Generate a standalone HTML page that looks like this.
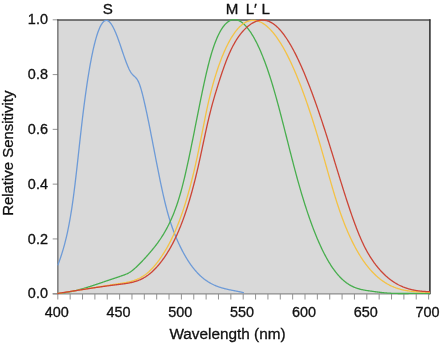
<!DOCTYPE html>
<html><head><meta charset="utf-8"><title>Cone sensitivity</title>
<style>
html,body{margin:0;padding:0;background:#fff;}
svg{display:block;}
text{font-family:"Liberation Sans",sans-serif;font-size:14.0px;fill:#111;stroke:#111;stroke-width:0.3px;}
</style></head><body>
<svg width="440" height="343" viewBox="0 0 440 343">
<rect x="0" y="0" width="440" height="343" fill="#ffffff"/>
<rect x="57.9" y="20.0" width="372.0" height="274.0" fill="#d9d9d9"/>
<g stroke="#989898" stroke-width="1.05" fill="none"><line x1="57.80" y1="294.0" x2="57.80" y2="299.5"/><line x1="70.16" y1="294.0" x2="70.16" y2="299.5"/><line x1="82.52" y1="294.0" x2="82.52" y2="299.5"/><line x1="94.88" y1="294.0" x2="94.88" y2="299.5"/><line x1="107.24" y1="294.0" x2="107.24" y2="299.5"/><line x1="119.60" y1="294.0" x2="119.60" y2="299.5"/><line x1="131.96" y1="294.0" x2="131.96" y2="299.5"/><line x1="144.32" y1="294.0" x2="144.32" y2="299.5"/><line x1="156.68" y1="294.0" x2="156.68" y2="299.5"/><line x1="169.04" y1="294.0" x2="169.04" y2="299.5"/><line x1="181.40" y1="294.0" x2="181.40" y2="299.5"/><line x1="193.76" y1="294.0" x2="193.76" y2="299.5"/><line x1="206.12" y1="294.0" x2="206.12" y2="299.5"/><line x1="218.48" y1="294.0" x2="218.48" y2="299.5"/><line x1="230.84" y1="294.0" x2="230.84" y2="299.5"/><line x1="243.20" y1="294.0" x2="243.20" y2="299.5"/><line x1="255.56" y1="294.0" x2="255.56" y2="299.5"/><line x1="267.92" y1="294.0" x2="267.92" y2="299.5"/><line x1="280.28" y1="294.0" x2="280.28" y2="299.5"/><line x1="292.64" y1="294.0" x2="292.64" y2="299.5"/><line x1="305.00" y1="294.0" x2="305.00" y2="299.5"/><line x1="317.36" y1="294.0" x2="317.36" y2="299.5"/><line x1="329.72" y1="294.0" x2="329.72" y2="299.5"/><line x1="342.08" y1="294.0" x2="342.08" y2="299.5"/><line x1="354.44" y1="294.0" x2="354.44" y2="299.5"/><line x1="366.80" y1="294.0" x2="366.80" y2="299.5"/><line x1="379.16" y1="294.0" x2="379.16" y2="299.5"/><line x1="391.52" y1="294.0" x2="391.52" y2="299.5"/><line x1="403.88" y1="294.0" x2="403.88" y2="299.5"/><line x1="416.24" y1="294.0" x2="416.24" y2="299.5"/><line x1="428.60" y1="294.0" x2="428.60" y2="299.5"/><line x1="52.699999999999996" y1="293.70" x2="57.9" y2="293.70"/><line x1="52.699999999999996" y1="238.92" x2="57.9" y2="238.92"/><line x1="52.699999999999996" y1="184.14" x2="57.9" y2="184.14"/><line x1="52.699999999999996" y1="129.36" x2="57.9" y2="129.36"/><line x1="52.699999999999996" y1="74.58" x2="57.9" y2="74.58"/><line x1="52.699999999999996" y1="19.80" x2="57.9" y2="19.80"/>
<line x1="52.699999999999996" y1="293.85" x2="429.9" y2="293.85" stroke="#8c8c8c" stroke-width="1.1"/>
</g>
<g fill="none">
<line x1="57.85" y1="19.3" x2="57.85" y2="294.3" stroke="#686868" stroke-width="1.3"/>
<line x1="57.2" y1="19.95" x2="430.3" y2="19.95" stroke="#505050" stroke-width="1.4"/>
<line x1="429.9" y1="19.3" x2="429.9" y2="294.3" stroke="#333333" stroke-width="1.6"/>
</g>
<g fill="none" stroke-width="1.3" stroke-linejoin="round" stroke-linecap="round">
<path d="M58.0,264.77 L58.5,263.40 L59.0,262.01 L59.5,260.60 L60.0,259.17 L60.5,257.71 L61.0,256.22 L61.5,254.70 L62.0,253.13 L62.5,251.53 L63.0,249.87 L63.5,248.16 L64.0,246.39 L64.5,244.57 L65.0,242.67 L65.5,240.71 L66.0,238.67 L66.5,236.55 L67.0,234.35 L67.5,232.06 L68.0,229.68 L68.5,227.20 L69.0,224.63 L69.5,221.95 L70.0,219.15 L70.5,216.25 L71.0,213.23 L71.5,210.08 L72.0,206.81 L72.5,203.41 L73.0,199.87 L73.5,196.20 L74.0,192.38 L74.5,188.42 L75.0,184.34 L75.5,180.15 L76.0,175.87 L76.5,171.50 L77.0,167.08 L77.5,162.59 L78.0,158.07 L78.5,153.53 L79.0,148.98 L79.5,144.43 L80.0,139.90 L80.5,135.41 L81.0,130.96 L81.5,126.57 L82.0,122.26 L82.5,118.04 L83.0,113.91 L83.5,109.88 L84.0,105.93 L84.5,102.08 L85.0,98.32 L85.5,94.65 L86.0,91.07 L86.5,87.58 L87.0,84.19 L87.5,80.88 L88.0,77.67 L88.5,74.54 L89.0,71.51 L89.5,68.56 L90.0,65.71 L90.5,62.94 L91.0,60.26 L91.5,57.68 L92.0,55.18 L92.5,52.77 L93.0,50.44 L93.5,48.21 L94.0,46.06 L94.5,44.01 L95.0,42.04 L95.5,40.15 L96.0,38.36 L96.5,36.65 L97.0,35.02 L97.5,33.49 L98.0,32.04 L98.5,30.67 L99.0,29.40 L99.5,28.20 L100.0,27.10 L100.5,26.07 L101.0,25.14 L101.5,24.28 L102.0,23.52 L102.5,22.83 L103.0,22.23 L103.5,21.72 L104.0,21.29 L104.5,20.94 L105.0,20.68 L105.5,20.49 L106.0,20.40 L106.5,20.38 L107.0,20.45 L107.5,20.59 L108.0,20.82 L108.5,21.13 L109.0,21.51 L109.5,21.97 L110.0,22.49 L110.5,23.09 L111.0,23.75 L111.5,24.48 L112.0,25.26 L112.5,26.11 L113.0,27.01 L113.5,27.97 L114.0,28.98 L114.5,30.04 L115.0,31.15 L115.5,32.30 L116.0,33.50 L116.5,34.73 L117.0,36.01 L117.5,37.32 L118.0,38.66 L118.5,40.03 L119.0,41.44 L119.5,42.86 L120.0,44.31 L120.5,45.77 L121.0,47.25 L121.5,48.73 L122.0,50.22 L122.5,51.70 L123.0,53.18 L123.5,54.65 L124.0,56.10 L124.5,57.54 L125.0,58.95 L125.5,60.34 L126.0,61.69 L126.5,63.01 L127.0,64.29 L127.5,65.52 L128.0,66.71 L128.5,67.84 L129.0,68.92 L129.5,69.93 L130.0,70.88 L130.5,71.76 L131.0,72.57 L131.5,73.29 L132.0,73.94 L132.5,74.51 L133.0,75.03 L133.5,75.51 L134.0,75.98 L134.5,76.43 L135.0,76.90 L135.5,77.40 L136.0,77.94 L136.5,78.54 L137.0,79.22 L137.5,79.99 L138.0,80.87 L138.5,81.88 L139.0,83.03 L139.5,84.32 L140.0,85.74 L140.5,87.28 L141.0,88.93 L141.5,90.68 L142.0,92.52 L142.5,94.45 L143.0,96.44 L143.5,98.51 L144.0,100.62 L144.5,102.78 L145.0,104.99 L145.5,107.24 L146.0,109.52 L146.5,111.85 L147.0,114.20 L147.5,116.59 L148.0,119.01 L148.5,121.46 L149.0,123.93 L149.5,126.42 L150.0,128.93 L150.5,131.47 L151.0,134.01 L151.5,136.57 L152.0,139.14 L152.5,141.72 L153.0,144.31 L153.5,146.90 L154.0,149.49 L154.5,152.08 L155.0,154.66 L155.5,157.25 L156.0,159.82 L156.5,162.38 L157.0,164.93 L157.5,167.47 L158.0,169.99 L158.5,172.49 L159.0,174.97 L159.5,177.43 L160.0,179.87 L160.5,182.27 L161.0,184.66 L161.5,187.01 L162.0,189.33 L162.5,191.62 L163.0,193.87 L163.5,196.08 L164.0,198.25 L164.5,200.39 L165.0,202.48 L165.5,204.52 L166.0,206.52 L166.5,208.46 L167.0,210.36 L167.5,212.21 L168.0,214.00 L168.5,215.75 L169.0,217.45 L169.5,219.11 L170.0,220.73 L170.5,222.30 L171.0,223.83 L171.5,225.33 L172.0,226.78 L172.5,228.20 L173.0,229.59 L173.5,230.94 L174.0,232.26 L174.5,233.55 L175.0,234.81 L175.5,236.04 L176.0,237.25 L176.5,238.43 L177.0,239.59 L177.5,240.72 L178.0,241.84 L178.5,242.93 L179.0,244.01 L179.5,245.07 L180.0,246.12 L180.5,247.14 L181.0,248.15 L181.5,249.14 L182.0,250.12 L182.5,251.08 L183.0,252.02 L183.5,252.95 L184.0,253.86 L184.5,254.75 L185.0,255.63 L185.5,256.50 L186.0,257.34 L186.5,258.18 L187.0,258.99 L187.5,259.80 L188.0,260.58 L188.5,261.36 L189.0,262.11 L189.5,262.86 L190.0,263.59 L190.5,264.30 L191.0,265.01 L191.5,265.69 L192.0,266.37 L192.5,267.03 L193.0,267.68 L193.5,268.31 L194.0,268.93 L194.5,269.54 L195.0,270.14 L195.5,270.72 L196.0,271.29 L196.5,271.85 L197.0,272.40 L197.5,272.93 L198.0,273.46 L198.5,273.97 L199.0,274.47 L199.5,274.96 L200.0,275.44 L200.5,275.91 L201.0,276.36 L201.5,276.81 L202.0,277.25 L202.5,277.67 L203.0,278.09 L203.5,278.49 L204.0,278.89 L204.5,279.28 L205.0,279.65 L205.5,280.02 L206.0,280.38 L206.5,280.73 L207.0,281.07 L207.5,281.40 L208.0,281.72 L208.5,282.04 L209.0,282.34 L209.5,282.64 L210.0,282.93 L210.5,283.21 L211.0,283.49 L211.5,283.76 L212.0,284.02 L212.5,284.27 L213.0,284.52 L213.5,284.76 L214.0,284.99 L214.5,285.22 L215.0,285.44 L215.5,285.65 L216.0,285.86 L216.5,286.06 L217.0,286.26 L217.5,286.45 L218.0,286.63 L218.5,286.81 L219.0,286.99 L219.5,287.16 L220.0,287.32 L220.5,287.48 L221.0,287.64 L221.5,287.79 L222.0,287.94 L222.5,288.08 L223.0,288.22 L223.5,288.36 L224.0,288.49 L224.5,288.62 L225.0,288.75 L225.5,288.87 L226.0,288.99 L226.5,289.11 L227.0,289.23 L227.5,289.34 L228.0,289.45 L228.5,289.56 L229.0,289.67 L229.5,289.77 L230.0,289.88 L230.5,289.98 L231.0,290.08 L231.5,290.18 L232.0,290.28 L232.5,290.37 L233.0,290.47 L233.5,290.57 L234.0,290.66 L234.5,290.76 L235.0,290.86 L235.5,290.95 L236.0,291.05 L236.5,291.14 L237.0,291.24 L237.5,291.34 L238.0,291.44 L238.5,291.54 L239.0,291.64 L239.5,291.74 L240.0,291.85 L240.5,291.95 L241.0,292.06 L241.5,292.17 L242.0,292.28 L242.5,292.40 L243.0,292.51 L243.4,292.61" stroke="#6e9bd7"/>
<path d="M57.9,293.41 L58.4,293.37 L58.9,293.34 L59.4,293.30 L59.9,293.25 L60.4,293.21 L60.9,293.16 L61.4,293.11 L61.9,293.05 L62.4,293.00 L62.9,292.94 L63.4,292.88 L63.9,292.81 L64.4,292.74 L64.9,292.67 L65.4,292.60 L65.9,292.52 L66.4,292.44 L66.9,292.36 L67.4,292.28 L67.9,292.19 L68.4,292.10 L68.9,292.01 L69.4,291.92 L69.9,291.83 L70.4,291.73 L70.9,291.63 L71.4,291.53 L71.9,291.42 L72.4,291.31 L72.9,291.21 L73.4,291.10 L73.9,290.98 L74.4,290.87 L74.9,290.75 L75.4,290.63 L75.9,290.51 L76.4,290.39 L76.9,290.27 L77.4,290.14 L77.9,290.01 L78.4,289.88 L78.9,289.75 L79.4,289.62 L79.9,289.48 L80.4,289.35 L80.9,289.21 L81.4,289.07 L81.9,288.93 L82.4,288.79 L82.9,288.65 L83.4,288.50 L83.9,288.36 L84.4,288.21 L84.9,288.06 L85.4,287.91 L85.9,287.76 L86.4,287.61 L86.9,287.45 L87.4,287.30 L87.9,287.14 L88.4,286.99 L88.9,286.83 L89.4,286.67 L89.9,286.51 L90.4,286.35 L90.9,286.19 L91.4,286.03 L91.9,285.87 L92.4,285.70 L92.9,285.54 L93.4,285.38 L93.9,285.21 L94.4,285.05 L94.9,284.88 L95.4,284.71 L95.9,284.54 L96.4,284.38 L96.9,284.21 L97.4,284.04 L97.9,283.87 L98.4,283.70 L98.9,283.53 L99.4,283.36 L99.9,283.19 L100.4,283.02 L100.9,282.85 L101.4,282.68 L101.9,282.51 L102.4,282.34 L102.9,282.17 L103.4,282.00 L103.9,281.83 L104.4,281.66 L104.9,281.49 L105.4,281.32 L105.9,281.15 L106.4,280.98 L106.9,280.81 L107.4,280.64 L107.9,280.47 L108.4,280.31 L108.9,280.14 L109.4,279.97 L109.9,279.80 L110.4,279.63 L110.9,279.46 L111.4,279.29 L111.9,279.12 L112.4,278.96 L112.9,278.79 L113.4,278.62 L113.9,278.45 L114.4,278.28 L114.9,278.11 L115.4,277.94 L115.9,277.77 L116.4,277.61 L116.9,277.44 L117.4,277.27 L117.9,277.10 L118.4,276.93 L118.9,276.76 L119.4,276.59 L119.9,276.42 L120.4,276.25 L120.9,276.08 L121.4,275.90 L121.9,275.73 L122.4,275.56 L122.9,275.39 L123.4,275.21 L123.9,275.03 L124.4,274.84 L124.9,274.65 L125.4,274.45 L125.9,274.25 L126.4,274.03 L126.9,273.81 L127.4,273.57 L127.9,273.32 L128.4,273.06 L128.9,272.78 L129.4,272.49 L129.9,272.18 L130.4,271.86 L130.9,271.52 L131.4,271.16 L131.9,270.80 L132.4,270.41 L132.9,270.02 L133.4,269.62 L133.9,269.20 L134.4,268.77 L134.9,268.34 L135.4,267.89 L135.9,267.44 L136.4,266.98 L136.9,266.51 L137.4,266.04 L137.9,265.55 L138.4,265.07 L138.9,264.57 L139.4,264.08 L139.9,263.57 L140.4,263.06 L140.9,262.54 L141.4,262.02 L141.9,261.50 L142.4,260.97 L142.9,260.43 L143.4,259.89 L143.9,259.35 L144.4,258.80 L144.9,258.25 L145.4,257.70 L145.9,257.14 L146.4,256.58 L146.9,256.01 L147.4,255.45 L147.9,254.88 L148.4,254.31 L148.9,253.73 L149.4,253.16 L149.9,252.58 L150.4,252.00 L150.9,251.41 L151.4,250.82 L151.9,250.23 L152.4,249.63 L152.9,249.02 L153.4,248.41 L153.9,247.80 L154.4,247.17 L154.9,246.54 L155.4,245.91 L155.9,245.26 L156.4,244.61 L156.9,243.94 L157.4,243.27 L157.9,242.59 L158.4,241.89 L158.9,241.19 L159.4,240.48 L159.9,239.75 L160.4,239.01 L160.9,238.26 L161.4,237.50 L161.9,236.72 L162.4,235.93 L162.9,235.13 L163.4,234.31 L163.9,233.48 L164.4,232.63 L164.9,231.77 L165.4,230.89 L165.9,229.99 L166.4,229.07 L166.9,228.14 L167.4,227.19 L167.9,226.22 L168.4,225.24 L168.9,224.23 L169.4,223.20 L169.9,222.16 L170.4,221.09 L170.9,220.00 L171.4,218.88 L171.9,217.74 L172.4,216.57 L172.9,215.38 L173.4,214.16 L173.9,212.91 L174.4,211.63 L174.9,210.31 L175.4,208.97 L175.9,207.59 L176.4,206.18 L176.9,204.73 L177.4,203.24 L177.9,201.72 L178.4,200.16 L178.9,198.56 L179.4,196.92 L179.9,195.23 L180.4,193.50 L180.9,191.73 L181.4,189.92 L181.9,188.06 L182.4,186.15 L182.9,184.20 L183.4,182.21 L183.9,180.17 L184.4,178.10 L184.9,176.00 L185.4,173.85 L185.9,171.67 L186.4,169.46 L186.9,167.22 L187.4,164.95 L187.9,162.66 L188.4,160.33 L188.9,157.99 L189.4,155.62 L189.9,153.22 L190.4,150.81 L190.9,148.38 L191.4,145.94 L191.9,143.48 L192.4,141.00 L192.9,138.52 L193.4,136.02 L193.9,133.52 L194.4,131.01 L194.9,128.49 L195.4,125.97 L195.9,123.45 L196.4,120.92 L196.9,118.40 L197.4,115.88 L197.9,113.37 L198.4,110.86 L198.9,108.36 L199.4,105.86 L199.9,103.38 L200.4,100.92 L200.9,98.46 L201.4,96.03 L201.9,93.61 L202.4,91.21 L202.9,88.84 L203.4,86.49 L203.9,84.16 L204.4,81.87 L204.9,79.60 L205.4,77.36 L205.9,75.16 L206.4,72.99 L206.9,70.86 L207.4,68.78 L207.9,66.73 L208.4,64.74 L208.9,62.79 L209.4,60.89 L209.9,59.04 L210.4,57.25 L210.9,55.50 L211.4,53.80 L211.9,52.16 L212.4,50.56 L212.9,49.01 L213.4,47.51 L213.9,46.05 L214.4,44.64 L214.9,43.28 L215.4,41.96 L215.9,40.69 L216.4,39.46 L216.9,38.27 L217.4,37.13 L217.9,36.03 L218.4,34.97 L218.9,33.95 L219.4,32.97 L219.9,32.03 L220.4,31.13 L220.9,30.26 L221.4,29.44 L221.9,28.65 L222.4,27.90 L222.9,27.19 L223.4,26.51 L223.9,25.86 L224.4,25.25 L224.9,24.68 L225.4,24.13 L225.9,23.62 L226.4,23.14 L226.9,22.70 L227.4,22.28 L227.9,21.89 L228.4,21.54 L228.9,21.21 L229.4,20.91 L229.9,20.65 L230.4,20.41 L230.9,20.20 L231.4,20.02 L231.9,19.90 L232.4,19.90 L232.9,19.90 L233.4,19.90 L233.9,19.90 L234.4,19.90 L234.9,19.90 L235.4,19.90 L235.9,19.90 L236.4,19.90 L236.9,19.90 L237.4,20.00 L237.9,20.17 L238.4,20.37 L238.9,20.59 L239.4,20.83 L239.9,21.10 L240.4,21.40 L240.9,21.72 L241.4,22.06 L241.9,22.42 L242.4,22.81 L242.9,23.22 L243.4,23.65 L243.9,24.11 L244.4,24.59 L244.9,25.09 L245.4,25.61 L245.9,26.15 L246.4,26.72 L246.9,27.30 L247.4,27.91 L247.9,28.54 L248.4,29.18 L248.9,29.85 L249.4,30.54 L249.9,31.25 L250.4,31.98 L250.9,32.72 L251.4,33.49 L251.9,34.28 L252.4,35.09 L252.9,35.92 L253.4,36.77 L253.9,37.65 L254.4,38.54 L254.9,39.45 L255.4,40.38 L255.9,41.34 L256.4,42.31 L256.9,43.31 L257.4,44.32 L257.9,45.36 L258.4,46.42 L258.9,47.50 L259.4,48.59 L259.9,49.71 L260.4,50.85 L260.9,52.02 L261.4,53.20 L261.9,54.40 L262.4,55.63 L262.9,56.87 L263.4,58.14 L263.9,59.42 L264.4,60.73 L264.9,62.06 L265.4,63.41 L265.9,64.78 L266.4,66.17 L266.9,67.59 L267.4,69.02 L267.9,70.48 L268.4,71.96 L268.9,73.45 L269.4,74.97 L269.9,76.51 L270.4,78.08 L270.9,79.66 L271.4,81.26 L271.9,82.89 L272.4,84.54 L272.9,86.21 L273.4,87.90 L273.9,89.61 L274.4,91.34 L274.9,93.08 L275.4,94.85 L275.9,96.63 L276.4,98.43 L276.9,100.25 L277.4,102.08 L277.9,103.92 L278.4,105.78 L278.9,107.65 L279.4,109.54 L279.9,111.43 L280.4,113.34 L280.9,115.25 L281.4,117.18 L281.9,119.11 L282.4,121.05 L282.9,122.99 L283.4,124.95 L283.9,126.90 L284.4,128.87 L284.9,130.83 L285.4,132.80 L285.9,134.77 L286.4,136.75 L286.9,138.72 L287.4,140.70 L287.9,142.67 L288.4,144.64 L288.9,146.61 L289.4,148.58 L289.9,150.55 L290.4,152.50 L290.9,154.46 L291.4,156.41 L291.9,158.35 L292.4,160.28 L292.9,162.21 L293.4,164.13 L293.9,166.04 L294.4,167.94 L294.9,169.82 L295.4,171.70 L295.9,173.56 L296.4,175.41 L296.9,177.24 L297.4,179.06 L297.9,180.87 L298.4,182.66 L298.9,184.43 L299.4,186.19 L299.9,187.93 L300.4,189.65 L300.9,191.36 L301.4,193.06 L301.9,194.73 L302.4,196.39 L302.9,198.04 L303.4,199.67 L303.9,201.28 L304.4,202.88 L304.9,204.46 L305.4,206.02 L305.9,207.57 L306.4,209.11 L306.9,210.62 L307.4,212.13 L307.9,213.61 L308.4,215.08 L308.9,216.54 L309.4,217.98 L309.9,219.40 L310.4,220.81 L310.9,222.20 L311.4,223.58 L311.9,224.94 L312.4,226.28 L312.9,227.61 L313.4,228.93 L313.9,230.23 L314.4,231.51 L314.9,232.78 L315.4,234.03 L315.9,235.27 L316.4,236.49 L316.9,237.70 L317.4,238.89 L317.9,240.06 L318.4,241.22 L318.9,242.37 L319.4,243.49 L319.9,244.61 L320.4,245.71 L320.9,246.79 L321.4,247.86 L321.9,248.91 L322.4,249.95 L322.9,250.97 L323.4,251.98 L323.9,252.97 L324.4,253.95 L324.9,254.91 L325.4,255.85 L325.9,256.79 L326.4,257.70 L326.9,258.60 L327.4,259.49 L327.9,260.36 L328.4,261.22 L328.9,262.06 L329.4,262.89 L329.9,263.70 L330.4,264.49 L330.9,265.28 L331.4,266.04 L331.9,266.80 L332.4,267.53 L332.9,268.26 L333.4,268.97 L333.9,269.66 L334.4,270.34 L334.9,271.01 L335.4,271.66 L335.9,272.30 L336.4,272.93 L336.9,273.54 L337.4,274.14 L337.9,274.72 L338.4,275.30 L338.9,275.86 L339.4,276.40 L339.9,276.94 L340.4,277.46 L340.9,277.96 L341.4,278.46 L341.9,278.94 L342.4,279.41 L342.9,279.87 L343.4,280.32 L343.9,280.75 L344.4,281.17 L344.9,281.59 L345.4,281.98 L345.9,282.37 L346.4,282.75 L346.9,283.11 L347.4,283.47 L347.9,283.81 L348.4,284.14 L348.9,284.46 L349.4,284.77 L349.9,285.07 L350.4,285.36 L350.9,285.64 L351.4,285.90 L351.9,286.16 L352.4,286.41 L352.9,286.65 L353.4,286.88 L353.9,287.10 L354.4,287.31 L354.9,287.51 L355.4,287.71 L355.9,287.89 L356.4,288.07 L356.9,288.25 L357.4,288.41 L357.9,288.57 L358.4,288.72 L358.9,288.87 L359.4,289.00 L359.9,289.14 L360.4,289.27 L360.9,289.39 L361.4,289.51 L361.9,289.62 L362.4,289.73 L362.9,289.83 L363.4,289.93 L363.9,290.02 L364.4,290.12 L364.9,290.21 L365.4,290.29 L365.9,290.37 L366.4,290.46 L366.9,290.53 L367.4,290.61 L367.9,290.69 L368.4,290.76 L368.9,290.83 L369.4,290.90 L369.9,290.97 L370.4,291.04 L370.9,291.11 L371.4,291.18 L371.9,291.25 L372.4,291.32 L372.9,291.39 L373.4,291.46 L373.9,291.53 L374.4,291.60 L374.9,291.67 L375.4,291.74 L375.9,291.81 L376.4,291.87 L376.9,291.94 L377.4,292.01 L377.9,292.07 L378.4,292.14 L378.9,292.20 L379.4,292.26 L379.9,292.32 L380.4,292.38 L380.9,292.44 L381.4,292.50 L381.9,292.55 L382.4,292.60 L382.9,292.66 L383.4,292.71 L383.9,292.76 L384.4,292.80 L384.9,292.85 L385.4,292.89 L385.9,292.93 L386.4,292.97 L386.9,293.01 L387.4,293.05 L387.9,293.08 L388.4,293.12 L388.9,293.15 L389.4,293.18 L389.9,293.21 L390.4,293.23 L390.9,293.26 L391.4,293.28 L391.9,293.30 L392.4,293.32 L392.9,293.34 L393.4,293.36 L393.9,293.38 L394.4,293.40 L394.9,293.41 L395.4,293.42 L395.9,293.44 L396.4,293.45 L396.9,293.46 L397.4,293.47 L397.9,293.48 L398.4,293.48 L398.9,293.49 L399.4,293.49 L399.9,293.50 L400.4,293.50 L400.9,293.51 L401.4,293.51 L401.9,293.51 L402.4,293.51 L402.9,293.51 L403.4,293.51 L403.9,293.51 L404.4,293.51 L404.9,293.51 L405.4,293.50 L405.9,293.50 L406.4,293.50 L406.9,293.49 L407.4,293.49 L407.9,293.48 L408.4,293.48 L408.9,293.47 L409.4,293.47 L409.9,293.46 L410.4,293.46 L410.9,293.45 L411.4,293.45 L411.9,293.44 L412.4,293.44 L412.9,293.43 L413.4,293.42 L413.9,293.42 L414.4,293.41 L414.9,293.41 L415.4,293.40 L415.9,293.40 L416.4,293.40 L416.9,293.39 L417.4,293.39 L417.9,293.38 L418.4,293.38 L418.9,293.38 L419.4,293.38 L419.9,293.38 L420.4,293.38 L420.9,293.38 L421.4,293.38 L421.9,293.38 L422.4,293.38 L422.9,293.38 L423.4,293.38 L423.9,293.39 L424.4,293.39 L424.9,293.40 L425.4,293.41 L425.9,293.41 L426.4,293.42 L426.9,293.43 L427.4,293.44 L427.9,293.45 L428.4,293.47 L428.9,293.48 L429.4,293.50 L429.5,293.50" stroke="#48ae4e"/>
<path d="M57.9,293.42 L58.4,293.35 L58.9,293.27 L59.4,293.20 L59.9,293.12 L60.4,293.05 L60.9,292.97 L61.4,292.90 L61.9,292.82 L62.4,292.75 L62.9,292.67 L63.4,292.59 L63.9,292.52 L64.4,292.44 L64.9,292.36 L65.4,292.29 L65.9,292.21 L66.4,292.13 L66.9,292.05 L67.4,291.97 L67.9,291.90 L68.4,291.82 L68.9,291.74 L69.4,291.66 L69.9,291.58 L70.4,291.50 L70.9,291.42 L71.4,291.34 L71.9,291.26 L72.4,291.18 L72.9,291.10 L73.4,291.02 L73.9,290.94 L74.4,290.86 L74.9,290.78 L75.4,290.70 L75.9,290.62 L76.4,290.54 L76.9,290.46 L77.4,290.37 L77.9,290.29 L78.4,290.21 L78.9,290.13 L79.4,290.05 L79.9,289.97 L80.4,289.88 L80.9,289.80 L81.4,289.72 L81.9,289.64 L82.4,289.56 L82.9,289.47 L83.4,289.39 L83.9,289.31 L84.4,289.23 L84.9,289.14 L85.4,289.06 L85.9,288.98 L86.4,288.90 L86.9,288.81 L87.4,288.73 L87.9,288.65 L88.4,288.57 L88.9,288.48 L89.4,288.40 L89.9,288.32 L90.4,288.24 L90.9,288.15 L91.4,288.07 L91.9,287.99 L92.4,287.90 L92.9,287.82 L93.4,287.74 L93.9,287.66 L94.4,287.57 L94.9,287.49 L95.4,287.41 L95.9,287.33 L96.4,287.25 L96.9,287.16 L97.4,287.08 L97.9,287.00 L98.4,286.92 L98.9,286.83 L99.4,286.75 L99.9,286.67 L100.4,286.59 L100.9,286.51 L101.4,286.43 L101.9,286.35 L102.4,286.26 L102.9,286.18 L103.4,286.10 L103.9,286.02 L104.4,285.94 L104.9,285.86 L105.4,285.78 L105.9,285.70 L106.4,285.62 L106.9,285.54 L107.4,285.46 L107.9,285.38 L108.4,285.30 L108.9,285.22 L109.4,285.14 L109.9,285.06 L110.4,284.98 L110.9,284.90 L111.4,284.82 L111.9,284.75 L112.4,284.67 L112.9,284.59 L113.4,284.51 L113.9,284.43 L114.4,284.36 L114.9,284.28 L115.4,284.20 L115.9,284.13 L116.4,284.05 L116.9,283.97 L117.4,283.90 L117.9,283.82 L118.4,283.75 L118.9,283.67 L119.4,283.60 L119.9,283.52 L120.4,283.45 L120.9,283.37 L121.4,283.29 L121.9,283.21 L122.4,283.14 L122.9,283.06 L123.4,282.97 L123.9,282.89 L124.4,282.80 L124.9,282.72 L125.4,282.63 L125.9,282.53 L126.4,282.44 L126.9,282.34 L127.4,282.24 L127.9,282.13 L128.4,282.02 L128.9,281.91 L129.4,281.79 L129.9,281.67 L130.4,281.54 L130.9,281.41 L131.4,281.28 L131.9,281.13 L132.4,280.99 L132.9,280.83 L133.4,280.68 L133.9,280.51 L134.4,280.34 L134.9,280.16 L135.4,279.98 L135.9,279.79 L136.4,279.59 L136.9,279.39 L137.4,279.17 L137.9,278.95 L138.4,278.72 L138.9,278.49 L139.4,278.24 L139.9,277.99 L140.4,277.72 L140.9,277.45 L141.4,277.17 L141.9,276.88 L142.4,276.58 L142.9,276.27 L143.4,275.95 L143.9,275.62 L144.4,275.28 L144.9,274.93 L145.4,274.56 L145.9,274.19 L146.4,273.80 L146.9,273.41 L147.4,273.00 L147.9,272.58 L148.4,272.14 L148.9,271.70 L149.4,271.24 L149.9,270.77 L150.4,270.29 L150.9,269.80 L151.4,269.29 L151.9,268.77 L152.4,268.25 L152.9,267.71 L153.4,267.15 L153.9,266.59 L154.4,266.01 L154.9,265.43 L155.4,264.83 L155.9,264.22 L156.4,263.59 L156.9,262.96 L157.4,262.31 L157.9,261.66 L158.4,260.99 L158.9,260.31 L159.4,259.62 L159.9,258.91 L160.4,258.20 L160.9,257.48 L161.4,256.74 L161.9,255.99 L162.4,255.23 L162.9,254.46 L163.4,253.68 L163.9,252.89 L164.4,252.08 L164.9,251.26 L165.4,250.43 L165.9,249.59 L166.4,248.73 L166.9,247.86 L167.4,246.98 L167.9,246.08 L168.4,245.17 L168.9,244.24 L169.4,243.29 L169.9,242.34 L170.4,241.36 L170.9,240.37 L171.4,239.36 L171.9,238.34 L172.4,237.30 L172.9,236.24 L173.4,235.16 L173.9,234.07 L174.4,232.95 L174.9,231.82 L175.4,230.67 L175.9,229.50 L176.4,228.31 L176.9,227.10 L177.4,225.86 L177.9,224.61 L178.4,223.34 L178.9,222.04 L179.4,220.73 L179.9,219.39 L180.4,218.03 L180.9,216.64 L181.4,215.24 L181.9,213.81 L182.4,212.35 L182.9,210.87 L183.4,209.37 L183.9,207.84 L184.4,206.29 L184.9,204.71 L185.4,203.11 L185.9,201.48 L186.4,199.82 L186.9,198.14 L187.4,196.43 L187.9,194.70 L188.4,192.93 L188.9,191.14 L189.4,189.32 L189.9,187.47 L190.4,185.59 L190.9,183.68 L191.4,181.75 L191.9,179.78 L192.4,177.78 L192.9,175.75 L193.4,173.70 L193.9,171.61 L194.4,169.48 L194.9,167.33 L195.4,165.15 L195.9,162.93 L196.4,160.68 L196.9,158.39 L197.4,156.07 L197.9,153.72 L198.4,151.34 L198.9,148.92 L199.4,146.47 L199.9,143.99 L200.4,141.49 L200.9,138.97 L201.4,136.45 L201.9,133.91 L202.4,131.37 L202.9,128.83 L203.4,126.30 L203.9,123.78 L204.4,121.28 L204.9,118.79 L205.4,116.33 L205.9,113.90 L206.4,111.50 L206.9,109.14 L207.4,106.82 L207.9,104.56 L208.4,102.34 L208.9,100.17 L209.4,98.06 L209.9,95.99 L210.4,93.97 L210.9,92.00 L211.4,90.07 L211.9,88.18 L212.4,86.33 L212.9,84.53 L213.4,82.76 L213.9,81.02 L214.4,79.32 L214.9,77.65 L215.4,76.02 L215.9,74.41 L216.4,72.83 L216.9,71.28 L217.4,69.77 L217.9,68.28 L218.4,66.82 L218.9,65.38 L219.4,63.98 L219.9,62.60 L220.4,61.25 L220.9,59.93 L221.4,58.63 L221.9,57.36 L222.4,56.11 L222.9,54.89 L223.4,53.70 L223.9,52.52 L224.4,51.38 L224.9,50.25 L225.4,49.15 L225.9,48.08 L226.4,47.02 L226.9,45.99 L227.4,44.98 L227.9,43.99 L228.4,43.02 L228.9,42.08 L229.4,41.15 L229.9,40.25 L230.4,39.37 L230.9,38.51 L231.4,37.68 L231.9,36.86 L232.4,36.06 L232.9,35.29 L233.4,34.53 L233.9,33.80 L234.4,33.09 L234.9,32.40 L235.4,31.72 L235.9,31.07 L236.4,30.44 L236.9,29.83 L237.4,29.24 L237.9,28.67 L238.4,28.12 L238.9,27.59 L239.4,27.07 L239.9,26.58 L240.4,26.11 L240.9,25.66 L241.4,25.22 L241.9,24.81 L242.4,24.41 L242.9,24.03 L243.4,23.67 L243.9,23.33 L244.4,23.01 L244.9,22.71 L245.4,22.43 L245.9,22.16 L246.4,21.91 L246.9,21.69 L247.4,21.47 L247.9,21.28 L248.4,21.11 L248.9,20.95 L249.4,20.81 L249.9,20.69 L250.4,20.58 L250.9,20.50 L251.4,20.43 L251.9,20.37 L252.4,20.34 L252.9,20.32 L253.4,20.32 L253.9,20.33 L254.4,20.36 L254.9,20.41 L255.4,20.47 L255.9,20.56 L256.4,20.65 L256.9,20.77 L257.4,20.90 L257.9,21.04 L258.4,21.20 L258.9,21.38 L259.4,21.57 L259.9,21.78 L260.4,22.01 L260.9,22.24 L261.4,22.50 L261.9,22.77 L262.4,23.05 L262.9,23.35 L263.4,23.67 L263.9,24.00 L264.4,24.34 L264.9,24.70 L265.4,25.08 L265.9,25.47 L266.4,25.87 L266.9,26.29 L267.4,26.72 L267.9,27.16 L268.4,27.62 L268.9,28.10 L269.4,28.59 L269.9,29.09 L270.4,29.61 L270.9,30.14 L271.4,30.69 L271.9,31.25 L272.4,31.82 L272.9,32.41 L273.4,33.01 L273.9,33.63 L274.4,34.26 L274.9,34.90 L275.4,35.56 L275.9,36.23 L276.4,36.92 L276.9,37.62 L277.4,38.33 L277.9,39.05 L278.4,39.79 L278.9,40.54 L279.4,41.31 L279.9,42.09 L280.4,42.88 L280.9,43.69 L281.4,44.51 L281.9,45.34 L282.4,46.19 L282.9,47.04 L283.4,47.92 L283.9,48.80 L284.4,49.70 L284.9,50.61 L285.4,51.53 L285.9,52.47 L286.4,53.42 L286.9,54.38 L287.4,55.36 L287.9,56.34 L288.4,57.34 L288.9,58.36 L289.4,59.38 L289.9,60.42 L290.4,61.47 L290.9,62.53 L291.4,63.61 L291.9,64.70 L292.4,65.80 L292.9,66.91 L293.4,68.03 L293.9,69.17 L294.4,70.32 L294.9,71.48 L295.4,72.65 L295.9,73.83 L296.4,75.03 L296.9,76.24 L297.4,77.46 L297.9,78.69 L298.4,79.93 L298.9,81.19 L299.4,82.46 L299.9,83.74 L300.4,85.03 L300.9,86.33 L301.4,87.64 L301.9,88.97 L302.4,90.30 L302.9,91.65 L303.4,93.01 L303.9,94.38 L304.4,95.76 L304.9,97.15 L305.4,98.56 L305.9,99.97 L306.4,101.40 L306.9,102.84 L307.4,104.28 L307.9,105.74 L308.4,107.21 L308.9,108.69 L309.4,110.19 L309.9,111.69 L310.4,113.20 L310.9,114.73 L311.4,116.26 L311.9,117.81 L312.4,119.36 L312.9,120.93 L313.4,122.50 L313.9,124.09 L314.4,125.69 L314.9,127.30 L315.4,128.91 L315.9,130.54 L316.4,132.18 L316.9,133.83 L317.4,135.49 L317.9,137.16 L318.4,138.83 L318.9,140.52 L319.4,142.22 L319.9,143.93 L320.4,145.65 L320.9,147.38 L321.4,149.11 L321.9,150.86 L322.4,152.61 L322.9,154.37 L323.4,156.13 L323.9,157.90 L324.4,159.66 L324.9,161.44 L325.4,163.21 L325.9,164.99 L326.4,166.76 L326.9,168.53 L327.4,170.31 L327.9,172.07 L328.4,173.84 L328.9,175.60 L329.4,177.36 L329.9,179.11 L330.4,180.85 L330.9,182.58 L331.4,184.31 L331.9,186.02 L332.4,187.73 L332.9,189.42 L333.4,191.10 L333.9,192.77 L334.4,194.43 L334.9,196.07 L335.4,197.69 L335.9,199.30 L336.4,200.89 L336.9,202.46 L337.4,204.01 L337.9,205.54 L338.4,207.05 L338.9,208.54 L339.4,210.01 L339.9,211.46 L340.4,212.89 L340.9,214.31 L341.4,215.70 L341.9,217.07 L342.4,218.43 L342.9,219.76 L343.4,221.08 L343.9,222.38 L344.4,223.66 L344.9,224.92 L345.4,226.17 L345.9,227.40 L346.4,228.61 L346.9,229.80 L347.4,230.98 L347.9,232.14 L348.4,233.29 L348.9,234.41 L349.4,235.53 L349.9,236.62 L350.4,237.70 L350.9,238.77 L351.4,239.82 L351.9,240.85 L352.4,241.87 L352.9,242.88 L353.4,243.87 L353.9,244.84 L354.4,245.80 L354.9,246.75 L355.4,247.69 L355.9,248.60 L356.4,249.51 L356.9,250.40 L357.4,251.28 L357.9,252.15 L358.4,253.00 L358.9,253.84 L359.4,254.66 L359.9,255.48 L360.4,256.28 L360.9,257.07 L361.4,257.84 L361.9,258.61 L362.4,259.36 L362.9,260.10 L363.4,260.82 L363.9,261.54 L364.4,262.24 L364.9,262.93 L365.4,263.61 L365.9,264.28 L366.4,264.94 L366.9,265.59 L367.4,266.22 L367.9,266.85 L368.4,267.46 L368.9,268.06 L369.4,268.66 L369.9,269.24 L370.4,269.81 L370.9,270.38 L371.4,270.93 L371.9,271.47 L372.4,272.01 L372.9,272.53 L373.4,273.05 L373.9,273.55 L374.4,274.05 L374.9,274.53 L375.4,275.01 L375.9,275.48 L376.4,275.94 L376.9,276.39 L377.4,276.83 L377.9,277.27 L378.4,277.69 L378.9,278.11 L379.4,278.52 L379.9,278.91 L380.4,279.31 L380.9,279.69 L381.4,280.07 L381.9,280.43 L382.4,280.79 L382.9,281.14 L383.4,281.49 L383.9,281.83 L384.4,282.16 L384.9,282.48 L385.4,282.79 L385.9,283.10 L386.4,283.40 L386.9,283.69 L387.4,283.98 L387.9,284.26 L388.4,284.53 L388.9,284.80 L389.4,285.06 L389.9,285.31 L390.4,285.55 L390.9,285.79 L391.4,286.03 L391.9,286.26 L392.4,286.48 L392.9,286.69 L393.4,286.90 L393.9,287.11 L394.4,287.30 L394.9,287.50 L395.4,287.68 L395.9,287.87 L396.4,288.04 L396.9,288.21 L397.4,288.38 L397.9,288.54 L398.4,288.69 L398.9,288.85 L399.4,288.99 L399.9,289.13 L400.4,289.27 L400.9,289.40 L401.4,289.53 L401.9,289.65 L402.4,289.77 L402.9,289.89 L403.4,290.00 L403.9,290.10 L404.4,290.21 L404.9,290.30 L405.4,290.40 L405.9,290.49 L406.4,290.58 L406.9,290.66 L407.4,290.74 L407.9,290.82 L408.4,290.90 L408.9,290.97 L409.4,291.04 L409.9,291.10 L410.4,291.16 L410.9,291.22 L411.4,291.28 L411.9,291.33 L412.4,291.39 L412.9,291.44 L413.4,291.48 L413.9,291.53 L414.4,291.57 L414.9,291.61 L415.4,291.65 L415.9,291.69 L416.4,291.72 L416.9,291.76 L417.4,291.79 L417.9,291.82 L418.4,291.85 L418.9,291.87 L419.4,291.90 L419.9,291.92 L420.4,291.95 L420.9,291.97 L421.4,291.99 L421.9,292.01 L422.4,292.03 L422.9,292.05 L423.4,292.07 L423.9,292.09 L424.4,292.11 L424.9,292.13 L425.4,292.15 L425.9,292.16 L426.4,292.18 L426.9,292.20 L427.4,292.22 L427.9,292.24 L428.4,292.26 L428.9,292.27 L429.4,292.29 L429.5,292.30" stroke="#f4c245"/>
<path d="M57.9,293.42 L58.4,293.35 L58.9,293.27 L59.4,293.19 L59.9,293.11 L60.4,293.03 L60.9,292.96 L61.4,292.88 L61.9,292.80 L62.4,292.72 L62.9,292.64 L63.4,292.56 L63.9,292.49 L64.4,292.41 L64.9,292.33 L65.4,292.25 L65.9,292.17 L66.4,292.09 L66.9,292.01 L67.4,291.93 L67.9,291.86 L68.4,291.78 L68.9,291.70 L69.4,291.62 L69.9,291.54 L70.4,291.46 L70.9,291.38 L71.4,291.30 L71.9,291.23 L72.4,291.15 L72.9,291.07 L73.4,290.99 L73.9,290.91 L74.4,290.83 L74.9,290.75 L75.4,290.68 L75.9,290.60 L76.4,290.52 L76.9,290.44 L77.4,290.36 L77.9,290.28 L78.4,290.21 L78.9,290.13 L79.4,290.05 L79.9,289.97 L80.4,289.89 L80.9,289.82 L81.4,289.74 L81.9,289.66 L82.4,289.58 L82.9,289.51 L83.4,289.43 L83.9,289.35 L84.4,289.27 L84.9,289.20 L85.4,289.12 L85.9,289.04 L86.4,288.97 L86.9,288.89 L87.4,288.81 L87.9,288.74 L88.4,288.66 L88.9,288.59 L89.4,288.51 L89.9,288.44 L90.4,288.36 L90.9,288.28 L91.4,288.21 L91.9,288.13 L92.4,288.06 L92.9,287.98 L93.4,287.91 L93.9,287.84 L94.4,287.76 L94.9,287.69 L95.4,287.61 L95.9,287.54 L96.4,287.47 L96.9,287.39 L97.4,287.32 L97.9,287.25 L98.4,287.18 L98.9,287.10 L99.4,287.03 L99.9,286.96 L100.4,286.89 L100.9,286.82 L101.4,286.75 L101.9,286.67 L102.4,286.60 L102.9,286.53 L103.4,286.46 L103.9,286.39 L104.4,286.32 L104.9,286.25 L105.4,286.18 L105.9,286.12 L106.4,286.05 L106.9,285.98 L107.4,285.91 L107.9,285.84 L108.4,285.78 L108.9,285.71 L109.4,285.64 L109.9,285.57 L110.4,285.51 L110.9,285.44 L111.4,285.38 L111.9,285.31 L112.4,285.25 L112.9,285.18 L113.4,285.12 L113.9,285.05 L114.4,284.99 L114.9,284.92 L115.4,284.86 L115.9,284.80 L116.4,284.74 L116.9,284.67 L117.4,284.61 L117.9,284.55 L118.4,284.49 L118.9,284.43 L119.4,284.37 L119.9,284.31 L120.4,284.25 L120.9,284.19 L121.4,284.13 L121.9,284.06 L122.4,284.00 L122.9,283.94 L123.4,283.87 L123.9,283.81 L124.4,283.74 L124.9,283.67 L125.4,283.59 L125.9,283.52 L126.4,283.44 L126.9,283.36 L127.4,283.28 L127.9,283.20 L128.4,283.11 L128.9,283.02 L129.4,282.92 L129.9,282.82 L130.4,282.72 L130.9,282.61 L131.4,282.50 L131.9,282.39 L132.4,282.27 L132.9,282.14 L133.4,282.01 L133.9,281.88 L134.4,281.74 L134.9,281.59 L135.4,281.44 L135.9,281.28 L136.4,281.12 L136.9,280.95 L137.4,280.77 L137.9,280.59 L138.4,280.39 L138.9,280.20 L139.4,279.99 L139.9,279.78 L140.4,279.56 L140.9,279.33 L141.4,279.09 L141.9,278.85 L142.4,278.60 L142.9,278.34 L143.4,278.07 L143.9,277.79 L144.4,277.50 L144.9,277.20 L145.4,276.89 L145.9,276.58 L146.4,276.25 L146.9,275.91 L147.4,275.56 L147.9,275.21 L148.4,274.84 L148.9,274.46 L149.4,274.07 L149.9,273.67 L150.4,273.26 L150.9,272.84 L151.4,272.40 L151.9,271.96 L152.4,271.51 L152.9,271.04 L153.4,270.57 L153.9,270.08 L154.4,269.58 L154.9,269.08 L155.4,268.56 L155.9,268.03 L156.4,267.49 L156.9,266.93 L157.4,266.37 L157.9,265.80 L158.4,265.21 L158.9,264.62 L159.4,264.01 L159.9,263.39 L160.4,262.76 L160.9,262.12 L161.4,261.47 L161.9,260.81 L162.4,260.13 L162.9,259.45 L163.4,258.75 L163.9,258.04 L164.4,257.33 L164.9,256.59 L165.4,255.85 L165.9,255.10 L166.4,254.33 L166.9,253.55 L167.4,252.76 L167.9,251.96 L168.4,251.14 L168.9,250.30 L169.4,249.46 L169.9,248.60 L170.4,247.72 L170.9,246.83 L171.4,245.93 L171.9,245.00 L172.4,244.07 L172.9,243.11 L173.4,242.14 L173.9,241.15 L174.4,240.15 L174.9,239.13 L175.4,238.09 L175.9,237.03 L176.4,235.95 L176.9,234.86 L177.4,233.74 L177.9,232.61 L178.4,231.46 L178.9,230.28 L179.4,229.09 L179.9,227.87 L180.4,226.64 L180.9,225.38 L181.4,224.10 L181.9,222.80 L182.4,221.48 L182.9,220.13 L183.4,218.77 L183.9,217.38 L184.4,215.96 L184.9,214.52 L185.4,213.06 L185.9,211.58 L186.4,210.06 L186.9,208.53 L187.4,206.97 L187.9,205.38 L188.4,203.77 L188.9,202.13 L189.4,200.46 L189.9,198.77 L190.4,197.05 L190.9,195.30 L191.4,193.53 L191.9,191.72 L192.4,189.89 L192.9,188.03 L193.4,186.14 L193.9,184.22 L194.4,182.28 L194.9,180.30 L195.4,178.29 L195.9,176.25 L196.4,174.18 L196.9,172.08 L197.4,169.94 L197.9,167.78 L198.4,165.58 L198.9,163.36 L199.4,161.10 L199.9,158.83 L200.4,156.53 L200.9,154.21 L201.4,151.89 L201.9,149.55 L202.4,147.20 L202.9,144.86 L203.4,142.51 L203.9,140.17 L204.4,137.83 L204.9,135.50 L205.4,133.19 L205.9,130.89 L206.4,128.61 L206.9,126.36 L207.4,124.14 L207.9,121.94 L208.4,119.78 L208.9,117.65 L209.4,115.57 L209.9,113.53 L210.4,111.54 L210.9,109.58 L211.4,107.67 L211.9,105.79 L212.4,103.95 L212.9,102.15 L213.4,100.37 L213.9,98.62 L214.4,96.90 L214.9,95.19 L215.4,93.51 L215.9,91.85 L216.4,90.20 L216.9,88.57 L217.4,86.95 L217.9,85.34 L218.4,83.75 L218.9,82.16 L219.4,80.60 L219.9,79.05 L220.4,77.51 L220.9,75.99 L221.4,74.49 L221.9,73.00 L222.4,71.54 L222.9,70.09 L223.4,68.67 L223.9,67.26 L224.4,65.87 L224.9,64.51 L225.4,63.17 L225.9,61.85 L226.4,60.56 L226.9,59.29 L227.4,58.04 L227.9,56.82 L228.4,55.63 L228.9,54.46 L229.4,53.32 L229.9,52.21 L230.4,51.12 L230.9,50.06 L231.4,49.02 L231.9,48.01 L232.4,47.02 L232.9,46.06 L233.4,45.12 L233.9,44.20 L234.4,43.31 L234.9,42.44 L235.4,41.59 L235.9,40.76 L236.4,39.95 L236.9,39.16 L237.4,38.40 L237.9,37.65 L238.4,36.93 L238.9,36.22 L239.4,35.53 L239.9,34.86 L240.4,34.21 L240.9,33.58 L241.4,32.96 L241.9,32.36 L242.4,31.78 L242.9,31.21 L243.4,30.66 L243.9,30.12 L244.4,29.60 L244.9,29.10 L245.4,28.60 L245.9,28.12 L246.4,27.66 L246.9,27.21 L247.4,26.77 L247.9,26.34 L248.4,25.93 L248.9,25.53 L249.4,25.15 L249.9,24.78 L250.4,24.42 L250.9,24.08 L251.4,23.75 L251.9,23.43 L252.4,23.13 L252.9,22.84 L253.4,22.57 L253.9,22.31 L254.4,22.07 L254.9,21.84 L255.4,21.62 L255.9,21.42 L256.4,21.23 L256.9,21.06 L257.4,20.90 L257.9,20.75 L258.4,20.62 L258.9,20.51 L259.4,20.41 L259.9,20.33 L260.4,20.26 L260.9,20.20 L261.4,20.16 L261.9,20.14 L262.4,20.13 L262.9,20.13 L263.4,20.15 L263.9,20.19 L264.4,20.24 L264.9,20.31 L265.4,20.39 L265.9,20.49 L266.4,20.60 L266.9,20.73 L267.4,20.88 L267.9,21.04 L268.4,21.21 L268.9,21.41 L269.4,21.62 L269.9,21.84 L270.4,22.08 L270.9,22.34 L271.4,22.61 L271.9,22.90 L272.4,23.21 L272.9,23.53 L273.4,23.87 L273.9,24.22 L274.4,24.60 L274.9,24.98 L275.4,25.39 L275.9,25.81 L276.4,26.25 L276.9,26.70 L277.4,27.17 L277.9,27.66 L278.4,28.16 L278.9,28.67 L279.4,29.21 L279.9,29.75 L280.4,30.32 L280.9,30.89 L281.4,31.49 L281.9,32.10 L282.4,32.72 L282.9,33.36 L283.4,34.01 L283.9,34.68 L284.4,35.37 L284.9,36.06 L285.4,36.77 L285.9,37.50 L286.4,38.24 L286.9,39.00 L287.4,39.76 L287.9,40.55 L288.4,41.34 L288.9,42.15 L289.4,42.98 L289.9,43.82 L290.4,44.67 L290.9,45.53 L291.4,46.41 L291.9,47.30 L292.4,48.20 L292.9,49.12 L293.4,50.05 L293.9,50.99 L294.4,51.95 L294.9,52.91 L295.4,53.89 L295.9,54.89 L296.4,55.89 L296.9,56.91 L297.4,57.94 L297.9,58.98 L298.4,60.03 L298.9,61.10 L299.4,62.17 L299.9,63.26 L300.4,64.36 L300.9,65.47 L301.4,66.59 L301.9,67.73 L302.4,68.87 L302.9,70.03 L303.4,71.19 L303.9,72.37 L304.4,73.56 L304.9,74.76 L305.4,75.97 L305.9,77.19 L306.4,78.42 L306.9,79.66 L307.4,80.91 L307.9,82.17 L308.4,83.44 L308.9,84.72 L309.4,86.01 L309.9,87.31 L310.4,88.62 L310.9,89.94 L311.4,91.27 L311.9,92.60 L312.4,93.95 L312.9,95.31 L313.4,96.67 L313.9,98.05 L314.4,99.43 L314.9,100.82 L315.4,102.22 L315.9,103.63 L316.4,105.04 L316.9,106.47 L317.4,107.90 L317.9,109.34 L318.4,110.79 L318.9,112.25 L319.4,113.71 L319.9,115.19 L320.4,116.67 L320.9,118.15 L321.4,119.65 L321.9,121.15 L322.4,122.66 L322.9,124.18 L323.4,125.70 L323.9,127.23 L324.4,128.77 L324.9,130.31 L325.4,131.86 L325.9,133.42 L326.4,134.98 L326.9,136.55 L327.4,138.13 L327.9,139.71 L328.4,141.30 L328.9,142.90 L329.4,144.50 L329.9,146.10 L330.4,147.71 L330.9,149.32 L331.4,150.94 L331.9,152.56 L332.4,154.18 L332.9,155.80 L333.4,157.43 L333.9,159.06 L334.4,160.69 L334.9,162.32 L335.4,163.95 L335.9,165.58 L336.4,167.21 L336.9,168.84 L337.4,170.47 L337.9,172.10 L338.4,173.73 L338.9,175.35 L339.4,176.97 L339.9,178.59 L340.4,180.21 L340.9,181.82 L341.4,183.43 L341.9,185.03 L342.4,186.63 L342.9,188.23 L343.4,189.82 L343.9,191.40 L344.4,192.97 L344.9,194.54 L345.4,196.11 L345.9,197.66 L346.4,199.21 L346.9,200.75 L347.4,202.28 L347.9,203.80 L348.4,205.31 L348.9,206.81 L349.4,208.30 L349.9,209.78 L350.4,211.25 L350.9,212.71 L351.4,214.16 L351.9,215.59 L352.4,217.02 L352.9,218.43 L353.4,219.82 L353.9,221.21 L354.4,222.57 L354.9,223.93 L355.4,225.27 L355.9,226.59 L356.4,227.90 L356.9,229.20 L357.4,230.47 L357.9,231.73 L358.4,232.98 L358.9,234.20 L359.4,235.41 L359.9,236.60 L360.4,237.77 L360.9,238.92 L361.4,240.05 L361.9,241.17 L362.4,242.26 L362.9,243.33 L363.4,244.38 L363.9,245.42 L364.4,246.43 L364.9,247.42 L365.4,248.39 L365.9,249.35 L366.4,250.28 L366.9,251.20 L367.4,252.10 L367.9,252.98 L368.4,253.85 L368.9,254.69 L369.4,255.53 L369.9,256.34 L370.4,257.14 L370.9,257.93 L371.4,258.70 L371.9,259.45 L372.4,260.19 L372.9,260.92 L373.4,261.64 L373.9,262.34 L374.4,263.02 L374.9,263.70 L375.4,264.36 L375.9,265.02 L376.4,265.66 L376.9,266.28 L377.4,266.90 L377.9,267.51 L378.4,268.11 L378.9,268.70 L379.4,269.28 L379.9,269.84 L380.4,270.40 L380.9,270.95 L381.4,271.49 L381.9,272.02 L382.4,272.54 L382.9,273.05 L383.4,273.56 L383.9,274.05 L384.4,274.53 L384.9,275.01 L385.4,275.47 L385.9,275.93 L386.4,276.38 L386.9,276.82 L387.4,277.25 L387.9,277.67 L388.4,278.09 L388.9,278.49 L389.4,278.89 L389.9,279.28 L390.4,279.66 L390.9,280.04 L391.4,280.40 L391.9,280.76 L392.4,281.11 L392.9,281.45 L393.4,281.79 L393.9,282.12 L394.4,282.44 L394.9,282.75 L395.4,283.06 L395.9,283.35 L396.4,283.65 L396.9,283.93 L397.4,284.21 L397.9,284.48 L398.4,284.75 L398.9,285.00 L399.4,285.26 L399.9,285.50 L400.4,285.74 L400.9,285.97 L401.4,286.20 L401.9,286.42 L402.4,286.63 L402.9,286.84 L403.4,287.05 L403.9,287.24 L404.4,287.43 L404.9,287.62 L405.4,287.80 L405.9,287.97 L406.4,288.14 L406.9,288.31 L407.4,288.47 L407.9,288.62 L408.4,288.77 L408.9,288.92 L409.4,289.06 L409.9,289.19 L410.4,289.32 L410.9,289.45 L411.4,289.57 L411.9,289.69 L412.4,289.80 L412.9,289.91 L413.4,290.01 L413.9,290.11 L414.4,290.21 L414.9,290.30 L415.4,290.39 L415.9,290.47 L416.4,290.56 L416.9,290.63 L417.4,290.71 L417.9,290.78 L418.4,290.85 L418.9,290.91 L419.4,290.97 L419.9,291.03 L420.4,291.09 L420.9,291.14 L421.4,291.19 L421.9,291.24 L422.4,291.28 L422.9,291.33 L423.4,291.37 L423.9,291.40 L424.4,291.44 L424.9,291.47 L425.4,291.50 L425.9,291.53 L426.4,291.56 L426.9,291.59 L427.4,291.61 L427.9,291.63 L428.4,291.65 L428.9,291.67 L429.4,291.69 L429.5,291.70" stroke="#cc4537"/>
</g>
<g><text transform="translate(56.7,317.2) scale(1.03,1)" text-anchor="middle">400</text><text transform="translate(118.5,317.2) scale(1.03,1)" text-anchor="middle">450</text><text transform="translate(180.3,317.2) scale(1.03,1)" text-anchor="middle">500</text><text transform="translate(242.1,317.2) scale(1.03,1)" text-anchor="middle">550</text><text transform="translate(303.9,317.2) scale(1.03,1)" text-anchor="middle">600</text><text transform="translate(365.7,317.2) scale(1.03,1)" text-anchor="middle">650</text><text transform="translate(427.5,317.2) scale(1.03,1)" text-anchor="middle">700</text><text transform="translate(47.9,298.3) scale(1.03,1)" text-anchor="end">0.0</text><text transform="translate(47.9,243.5) scale(1.03,1)" text-anchor="end">0.2</text><text transform="translate(47.9,188.7) scale(1.03,1)" text-anchor="end">0.4</text><text transform="translate(47.9,134.0) scale(1.03,1)" text-anchor="end">0.6</text><text transform="translate(47.9,79.2) scale(1.03,1)" text-anchor="end">0.8</text><text transform="translate(47.9,24.4) scale(1.03,1)" text-anchor="end">1.0</text>
<text transform="translate(107.8,14.0) scale(1.03,1)" text-anchor="middle" style="font-size:14.7px">S</text><text transform="translate(232.0,13.8) scale(1.03,1)" text-anchor="middle" style="font-size:14.7px">M</text><text transform="translate(245.7,13.8) scale(1.03,1)" text-anchor="start" style="font-size:14.7px">L′</text><text transform="translate(261.5,13.8) scale(1.03,1)" text-anchor="start" style="font-size:14.7px">L</text>
<text transform="translate(227.5,339.4) scale(1.03,1)" text-anchor="middle" style="font-size:14.9px">Wavelength (nm)</text>
<text transform="translate(13.3,153.2) scale(1.03,1) rotate(-90)" text-anchor="middle" style="font-size:14.95px">Relative Sensitivity</text>
</g>
</svg>
</body></html>
